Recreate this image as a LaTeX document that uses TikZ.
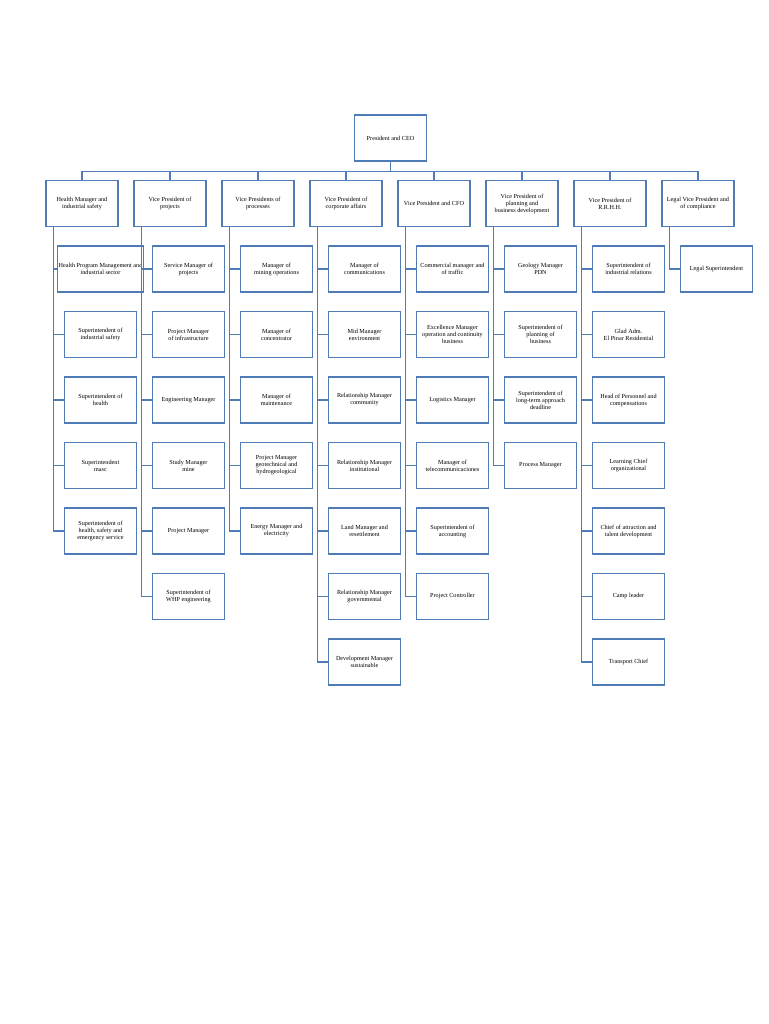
\documentclass[tikz,border=0pt]{standalone}
\usepackage{fontspec}
\setmainfont{Liberation Serif}
\definecolor{orgblue}{RGB}{79,124,180}
\begin{document}
\begin{tikzpicture}[x=1pt, y=-1pt,
    box/.style={draw=orgblue, line width=1.4pt, fill=white, minimum width=72pt, minimum height=46pt,
      inner sep=1pt, align=center, font=\fontsize{6.2}{7}\selectfont},
    link/.style={draw=orgblue, line width=1.4pt}]
  \useasboundingbox (0,0) rectangle (768,1024);
  \node[box] (ceo) at (390.5,138) {President and CEO};
  % vice presidents
  \foreach \i/\t in {1/{Health Manager and\\industrial safety}, 2/{Vice President of\\projects},
      3/{Vice Presidents of\\processes}, 4/{Vice President of\\corporate affairs},
      5/{Vice President and CFO}, 6/{Vice President of\\planning and\\business development},
      7/{Vice President of\\R.R.H.H.}, 8/{Legal Vice President and\\of compliance}} {
    \node[box] (vp\i) at ({82+88*(\i-1)},203.5) {\t};
    \draw[link] (ceo.south) -- ++(0,10) -| (vp\i.north);
  }
  % second level, one column per vice president
  \foreach \i/\list in {
      1/{{Health Program Management and\\industrial sector}, {Superintendent of\\industrial safety}, {Superintendent of\\health}, {Superintendent\\masc}, {Superintendent of\\health, safety and\\emergency service}},
      2/{{Service Manager of\\projects}, {Project Manager\\of infrastructure}, {Engineering Manager}, {Study Manager\\mine}, {Project Manager}, {Superintendent of\\WHP engineering}},
      3/{{Manager of\\mining operations}, {Manager of\\concentrator}, {Manager of\\maintenance}, {Project Manager\\geotechnical and\\hydrogeological}, {Energy Manager and\\electricity}},
      4/{{Manager of\\communications}, {Mid Manager\\environment}, {Relationship Manager\\community}, {Relationship Manager\\institutional}, {Land Manager and\\resettlement}, {Relationship Manager\\governmental}, {Development Manager\\sustainable}},
      5/{{Commercial manager and\\of traffic}, {Excellence Manager\\operation and continuity\\business}, {Logistics Manager}, {Manager of\\telecommunicaciones}, {Superintendent of\\accounting}, {Project Controller}},
      6/{{Geology Manager\\PDN}, {Superintendent of\\planning of\\business}, {Superintendent of\\long-term approach\\deadline}, {Process Manager}},
      7/{{Superintendent of\\industrial relations}, {Glad Adm.\\El Pinar Residential}, {Head of Personnel and\\compensations}, {Learning Chief\\organizational}, {Chief of attraction and\\talent development}, {Camp leader}, {Transport Chief}},
      8/{{Legal Superintendent}}} {
    \foreach \t [count=\j] in \list {
      \node[box] (s\i-\j) at ({100.5+88*(\i-1)},{269+65.5*(\j-1)}) {\t};
      \draw[link] (vp\i.south west) ++(8,0) |- (s\i-\j.west);
    }
  }
\end{tikzpicture}
\end{document}
